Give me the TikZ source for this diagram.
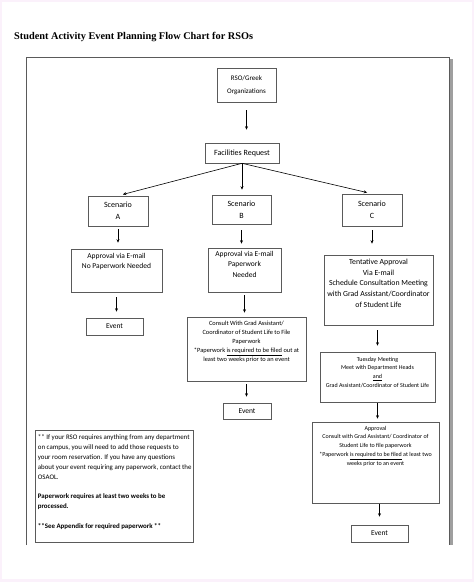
\documentclass[tikz,border=0pt]{standalone}
\usepackage{fontspec}
\setmainfont{Carlito}
\newfontfamily\titlefont{Liberation Serif}
\usetikzlibrary{arrows.meta,positioning}
\definecolor{pagepink}{HTML}{FBF1FB}
\definecolor{boxline}{HTML}{5A5A5A}
\begin{document}
\begin{tikzpicture}[x=1pt,y=-1pt,
	every node/.style={align=center,inner sep=0pt},
	box/.style={draw=boxline,line width=.6pt,fill=white},
	arr/.style={-{Stealth[length=3.5pt,width=3pt]},line width=.6pt,shorten <=3pt,shorten >=5pt},
	big/.style={font=\fontsize{8}{12}\selectfont},
	mid/.style={font=\fontsize{7.5}{10.8}\selectfont},
	small/.style={font=\fontsize{6.4}{9}\selectfont},
	tiny/.style={font=\fontsize{6}{8.8}\selectfont}]
	\fill[pagepink] (0,0) rectangle (474,582);
	\fill[white] (2,2) rectangle (472,579);
	\useasboundingbox (0,0) rectangle (474,582);
	\node[anchor=base west,font=\titlefont\bfseries\fontsize{10.3}{12}\selectfont] (title) at (14,39) {Student Activity Event Planning Flow Chart for RSOs};
	\fill[gray!75] (449.4,59) rectangle (452.6,545);
	\draw[boxline,line width=.8pt] (26,545) -- (26,57) -- (449,57) -- (449,545);
	\node[box,minimum width=59pt,minimum height=34pt,font=\fontsize{7}{13}\selectfont] (rso) at (246.5,85) {RSO/Greek\\Organizations};
	\node[box,big,minimum width=74pt,minimum height=20pt] (fac) at (242,153) {Facilities Request};
	\node[box,big,minimum width=60pt,minimum height=30pt] (scA) at (118,211) {Scenario\\A};
	\node[box,big,minimum width=59pt,minimum height=29pt] (scB) at (241.5,209.5) {Scenario\\B};
	\node[box,big,minimum width=60pt,minimum height=32pt] (scC) at (372,210) {Scenario\\C};
	\node[box,minimum width=91pt,minimum height=43pt] (apA) at (116.5,270.5) {};
	\node[mid,below=4pt of apA.north] (apAtext) {Approval via E-mail\\No Paperwork Needed};
	\node[box,mid,minimum width=57pt,minimum height=17pt] (evA) at (114.5,326.5) {Event};
	\node[box,minimum width=73pt,minimum height=44pt] (apB) at (244.5,270) {};
	\node[mid,below=3pt of apB.north] (apBtext) {Approval via E-mail\\Paperwork\\Needed};
	\node[box,minimum width=119pt,minimum height=64pt] (coB) at (246.5,349) {};
	\node[small,below=4pt of coB.north] (coBtext) {Consult With Grad Assistant/\\Coordinator of Student Life to File\\Paperwork\\*Paperwork \underline{is required to be filed} out at\\least two weeks prior to an event};
	\node[box,mid,minimum width=48pt,minimum height=16pt] (evB) at (247,411) {Event};
	\node[box,minimum width=109pt,minimum height=70pt] (teC) at (378.5,290) {};
	\node[font=\fontsize{7.8}{10.8}\selectfont,below=4pt of teC.north] (teCtext) {Tentative Approval\\Via E-mail\\Schedule Consultation Meeting\\with Grad Assistant/Coordinator\\of Student Life};
	\node[box,minimum width=115pt,minimum height=50pt] (tuC) at (377.5,377) {};
	\node[tiny,below=5pt of tuC.north] (tuCtext) {Tuesday Meeting\\Meet with Department Heads\\\underline{and}\\Grad Assistant/Coordinator of Student Life};
	\node[box,minimum width=127pt,minimum height=81pt] (apC) at (375.5,462.5) {};
	\node[tiny,below=4pt of apC.north] (apCtext) {Approval\\Consult with Grad Assistant/ Coordinator of\\Student Life to file paperwork\\*Paperwork \underline{is required to be filed} at least two\\weeks prior to an event};
	\node[box,mid,minimum width=57pt,minimum height=17pt] (evC) at (379.5,533.5) {Event};
	\node[box,minimum width=158pt,minimum height=112pt] (note) at (114,486) {};
	\node[align=left,font=\fontsize{6.9}{9.8}\selectfont,below right=5pt and 3pt of note.north west] (notetext) {** If your RSO requires anything from any department\\on campus, you will need to add those requests to\\your room reservation. If you have any questions\\about your event requiring any paperwork, contact the\\OSAOL.\\[10pt]\textbf{Paperwork requires at least two weeks to be}\\\textbf{processed.}\\[10pt]\textbf{**See Appendix for required paperwork **}};
	\draw[arr,shorten <=8pt,shorten >=13pt] (rso.south) -- (rso.south |- fac.north);
	\draw[arr,shorten <=0pt] (fac.south) -- (scA.north);
	\draw[arr,shorten <=0pt] (fac.south) -- (fac.south |- scB.north);
	\draw[arr,shorten <=0pt] (fac.south) -- (scC.north);
	\draw[arr,shorten >=6pt] (scA.south) -- (scA.south |- apA.north);
	\draw[arr,shorten <=5pt,shorten >=6pt] (apA.south) -- (apA.south |- evA.north);
	\draw[arr,shorten <=6pt,shorten >=4pt] (scB.south) -- (scB.south |- apB.north);
	\draw[arr,shorten >=4pt] (apB.south) -- (apB.south |- coB.north);
	\draw[arr,shorten >=6pt] (coB.south) -- (coB.south |- evB.north);
	\draw[arr,shorten <=4pt,shorten >=11pt] (scC.south) -- (scC.south |- teC.north);
	\draw[arr,shorten <=5pt,shorten >=6pt] (tuC.north |- teC.south) -- (tuC.north);
	\draw[arr,shorten <=1pt,shorten >=3pt] (tuC.south) -- (tuC.south |- apC.north);
	\draw[arr,shorten <=1pt,shorten >=8pt] (evC.north |- apC.south) -- (evC.north);
\end{tikzpicture}
\end{document}
